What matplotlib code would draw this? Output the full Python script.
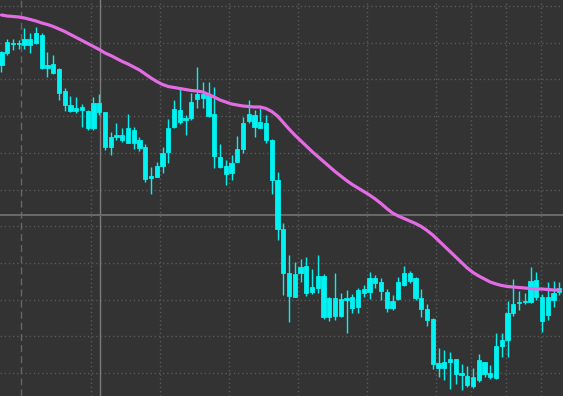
import numpy as np
import matplotlib
matplotlib.use("Agg")
import matplotlib.pyplot as plt

# Candle data (price units, one candle per bar index)
opens = [335, 347, 357, 356, 355, 361, 357, 365, 332, 336,
         331, 309, 295, 289, 293, 289, 272, 297, 288, 253,
         263, 265, 257, 270, 260, 253, 222, 223, 234, 248,
         273, 290, 280, 282, 301, 306, 305, 286, 243, 234,
         227, 238, 251, 279, 285, 272, 277, 260, 220, 171,
         127, 103, 127, 134, 108, 112, 124, 83, 102, 84,
         100, 103, 93, 111, 108, 122, 118, 108, 92, 101,
         115, 127, 122, 102, 91, 81, 37, 32, 38, 41,
         27, 24, 14, 20, 38, 27, 22, 54, 60, 87,
         98, 98, 98, 120, 103, 85, 100, 108]
highs = [349, 361, 361, 360, 372, 367, 373, 367, 348, 345,
         332, 312, 304, 303, 296, 290, 303, 306, 288, 268,
         277, 272, 286, 273, 263, 256, 233, 238, 253, 281,
         300, 311, 285, 307, 333, 318, 318, 313, 256, 240,
         245, 264, 283, 300, 290, 292, 285, 261, 228, 177,
         145, 138, 141, 143, 131, 145, 126, 103, 127, 107,
         110, 106, 112, 115, 128, 125, 122, 111, 105, 123,
         134, 129, 123, 111, 96, 82, 52, 50, 48, 41,
         36, 34, 32, 46, 38, 35, 67, 67, 99, 121,
         109, 107, 133, 128, 106, 118, 119, 118]
lows = [328, 345, 350, 351, 351, 347, 356, 331, 323, 326,
        300, 289, 288, 287, 273, 270, 270, 285, 250, 245,
        260, 258, 257, 251, 249, 218, 206, 223, 227, 237,
        272, 276, 265, 280, 292, 292, 283, 232, 232, 215,
        220, 238, 247, 277, 263, 272, 257, 206, 160, 105,
        78, 103, 118, 104, 106, 107, 81, 79, 80, 83,
        67, 87, 87, 103, 101, 112, 100, 88, 90, 100,
        114, 117, 100, 83, 74, 31, 23, 20, 11, 16,
        10, 13, 12, 18, 23, 21, 21, 43, 43, 84,
        90, 96, 97, 100, 68, 80, 93, 105]
closes = [348, 358, 356, 357, 361, 355, 367, 332, 335, 327,
          307, 295, 289, 292, 290, 272, 297, 288, 253, 263,
          265, 260, 272, 257, 252, 221, 224, 234, 247, 272,
          291, 278, 282, 298, 306, 302, 284, 244, 233, 226,
          237, 251, 277, 286, 273, 278, 260, 220, 171, 127,
          104, 126, 133, 107, 113, 124, 83, 102, 84, 101,
          102, 92, 110, 107, 122, 117, 109, 92, 99, 118,
          127, 119, 102, 91, 80, 36, 32, 38, 41, 26,
          25, 15, 23, 40, 26, 23, 54, 60, 87, 96,
          97, 99, 119, 103, 79, 103, 107, 112]

# moving average at each candle
ma = [385, 384, 383.5, 383, 382, 380.5, 379, 377, 375.5, 373.5,
      371, 368.5, 365.5, 362.5, 359.5, 356.5, 353.5, 350.5, 347, 344.5,
      341.5, 338.5, 336, 333, 330, 326, 322, 318.5, 315.5, 313.5,
      312.5, 311.5, 310.5, 309.5, 309, 308, 305.5, 303, 300, 298,
      296, 295, 294, 293.5, 293, 293, 291.5, 288.5, 284, 277.5,
      271, 265, 259.5, 254, 248.5, 243.5, 238.5, 233.5, 228.5, 224,
      219.5, 215.5, 212, 208.5, 205, 201, 196.5, 191.5, 187, 184,
      181.5, 179, 176.5, 173.5, 169.5, 165, 159.5, 154, 148.5, 143,
      137.5, 132, 127.5, 124, 121, 118, 116, 114.5, 113.5, 113,
      112.5, 112, 111.5, 111, 111, 110.5, 110, 110]

# time grid positions (between candles), session separator, crosshair
time_grid = [15.6, 27.6, 39.6, 51.6, 63.6, 75.6, 81.7, 87.7, 93.8]
separator = 3.45
cross_x = 17.2
cross_y = 185
price_grid = [27, 63.7, 100.4, 137.1, 173.8, 210.5, 247.2, 283.9, 320.6, 357.3, 394]

BG = "#333333"
CANDLE = "#00f2f2"
MA_COLOR = "#e36be3"
GRID = "#595959"

x = np.arange(len(opens))
o = np.array(opens, dtype=float)
c = np.array(closes, dtype=float)

fig = plt.figure(figsize=(5.63, 3.96), dpi=100, facecolor=BG)
ax = fig.add_axes([0, 0, 1, 1])
ax.set_facecolor(BG)

# grid
for gy in price_grid:
    ax.axhline(gy, color=GRID, lw=1, linestyle=(0, (1, 2)), zorder=1)
for gx in time_grid:
    ax.axvline(gx, color=GRID, lw=1, linestyle=(0, (1, 2)), zorder=1)
ax.axvline(separator, color="#666666", lw=1, linestyle=(0, (5, 3)), zorder=1)

# crosshair
ax.axvline(cross_x, color="#7c7c7c", lw=1, zorder=2)
ax.axhline(cross_y, color="#6e6e6e", lw=1.3, zorder=2)

# candles
ax.vlines(x, lows, highs, color=CANDLE, lw=1, zorder=3)
body_low = np.minimum(o, c)
body_h = np.abs(c - o)
ax.bar(x, body_h, bottom=body_low, width=0.76, color=CANDLE,
       edgecolor=CANDLE, linewidth=0.6, zorder=4)

# moving average
ax.plot(x, ma, color=MA_COLOR, lw=2.3, zorder=5,
        solid_capstyle="round", solid_joinstyle="round")

ax.set_xlim(-0.26, 97.65)
ax.set_ylim(4, 400)
ax.set_xticks([])
ax.set_yticks([])
for s in ax.spines.values():
    s.set_visible(False)

fig.savefig("out.png", dpi=100, facecolor=BG)
